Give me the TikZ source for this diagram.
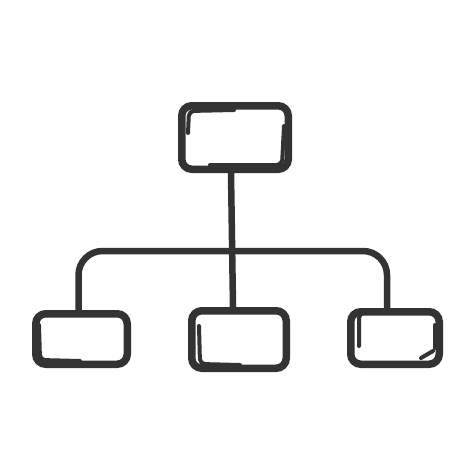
\documentclass[tikz,border=0pt]{standalone}
\definecolor{trazo}{HTML}{333333}
\tikzset{
  caja/.style={draw=trazo,line width=7.5pt,rounded corners=10pt,inner sep=0pt},
  brillo/.style={draw=trazo,line width=4pt,line cap=round,line join=round,rounded corners=5pt},
  enlace/.style={draw=trazo,line width=6.5pt,line cap=round,rounded corners=24pt}
}
\begin{document}
\begin{tikzpicture}[x=1pt,y=-1pt]

    \def\ybarra{251}%Altura barra

    \useasboundingbox[fill=white] (0,0) rectangle (474,474);

    %Cajas
    \node[caja,minimum width=106.5pt,minimum height=63.5pt] (jefe) at (235,137.5) {};
    \node[caja,minimum width=91.5pt,minimum height=50.5pt] (izq) at (81.5,339) {};
    \node[caja,minimum width=94.5pt,minimum height=57.5pt] (medio) at (239,339.5) {};
    \node[caja,minimum width=88.5pt,minimum height=52.5pt] (der) at (395,338) {};

    %Conectores
    \coordinate (barra) at (233,\ybarra);
    \draw[enlace] ([xshift=-4pt]jefe.south) -- ([xshift=-6pt]medio.north);
    \draw[enlace] ([xshift=-3pt]izq.north) |- (barra) -| ([xshift=-8pt]der.north);

    %Brillos
    \draw[brillo] ([shift={(56,8)}]jefe.north west) -- ([shift={(11,9)}]jefe.north west) -- ([shift={(10,31)}]jefe.north west);
    \draw[brillo] ([shift={(-82,-8)}]jefe.south east) -- ([shift={(-10,-8)}]jefe.south east) -- ([shift={(-8,-47)}]jefe.south east);
    \draw[brillo] ([shift={(7,-43)}]izq.south west) -- ([shift={(8,-8)}]izq.south west) -- ([shift={(48,-7)}]izq.south west);
    \draw[brillo] ([shift={(11,-46)}]medio.south west) -- ([shift={(12,-8)}]medio.south west) -- ([shift={(52,-7)}]medio.south west);
    \draw[brillo] ([shift={(12,38)}]der.north west) -- ([shift={(12,5)}]der.north west) -- ([shift={(50,4)}]der.north west);
    \draw[brillo] ([shift={(-8,-43)}]der.south east) -- ([shift={(-8,-20)}]der.south east);
    \draw[brillo] ([shift={(-22,-10)}]der.south east) -- ([shift={(-10,-17)}]der.south east);
\end{tikzpicture}
\end{document}
